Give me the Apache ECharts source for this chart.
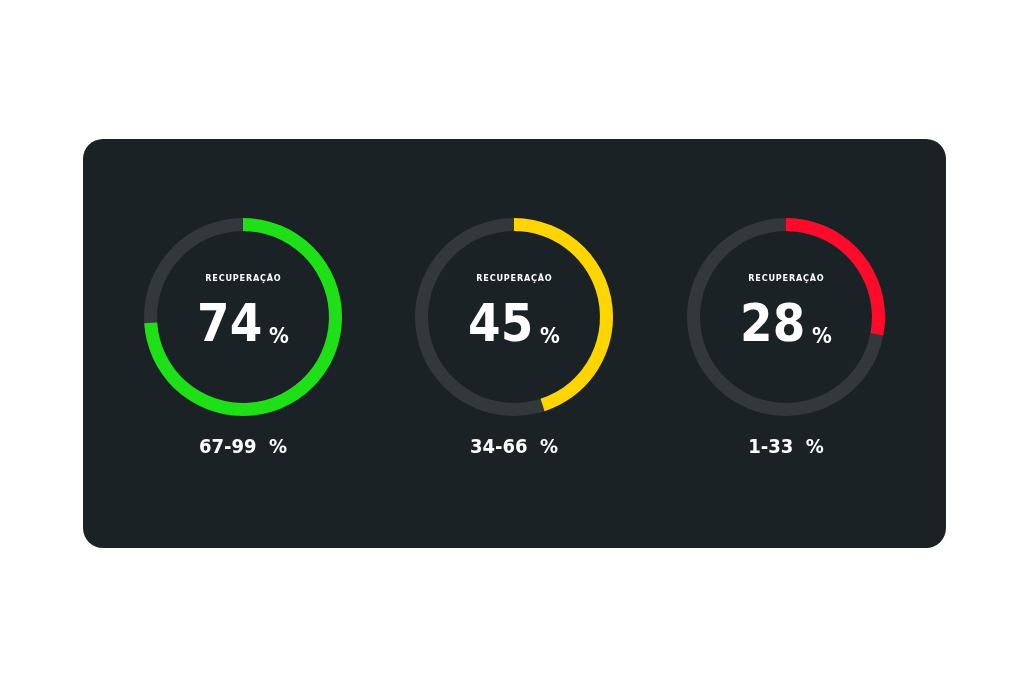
<!DOCTYPE html>
<html><head><meta charset="utf-8">
<script src="https://cdn.jsdelivr.net/npm/echarts@6/dist/echarts.min.js"></script>
<style>html,body{margin:0;background:#fff}#c{width:1030px;height:685px}</style>
</head><body><div id="c"></div>
<script>
const titles = ['RECUPERAÇÃO','RECUPERAÇÃO','RECUPERAÇÃO'];
const values = [74, 45, 28];
const ranges = ['67-99  %','34-66  %','1-33  %'];
const colors = ['#1ee016','#ffd500','#ff0a2a'];
const centersX = [243, 514, 786];
const chart = echarts.init(document.getElementById('c'));
const font = '"DejaVu Sans Condensed","DejaVu Sans",sans-serif';
const series = values.map((v,i)=>({
  type:'gauge', center:[centersX[i],317], radius:99,
  startAngle:90, endAngle:-270, min:0, max:100,
  pointer:{show:false},
  progress:{show:true, width:13, roundCap:false, itemStyle:{color:colors[i]}},
  axisLine:{lineStyle:{width:13, color:[[1,'#33393b']]}},
  axisTick:{show:false}, splitLine:{show:false}, axisLabel:{show:false},
  title:{show:true, offsetCenter:[0,-38], color:'#fff', fontSize:9, fontWeight:'bold', fontFamily:font},
  detail:{offsetCenter:[0,10], formatter:x=>'{v|'+x+'}{p| %}',
    rich:{v:{fontSize:52,fontWeight:'bold',color:'#fff',fontFamily:font},
          p:{fontSize:22,fontWeight:'bold',color:'#fff',fontFamily:font,padding:[20,0,0,0]}}},
  data:[{value:v, name:titles[i].split('').join('\u200a')}]
}));
const graphic = [{type:'rect', z:-1, shape:{x:83,y:139,width:863,height:409,r:20}, style:{fill:'#1b2226'}}]
 .concat(ranges.map((r,i)=>({type:'text', x:centersX[i], y:448, style:{text:r, fill:'#fff', font:'bold 20px '+font, textAlign:'center', textVerticalAlign:'middle'}})));
chart.setOption({backgroundColor:'#fff', graphic, series});
</script></body></html>
